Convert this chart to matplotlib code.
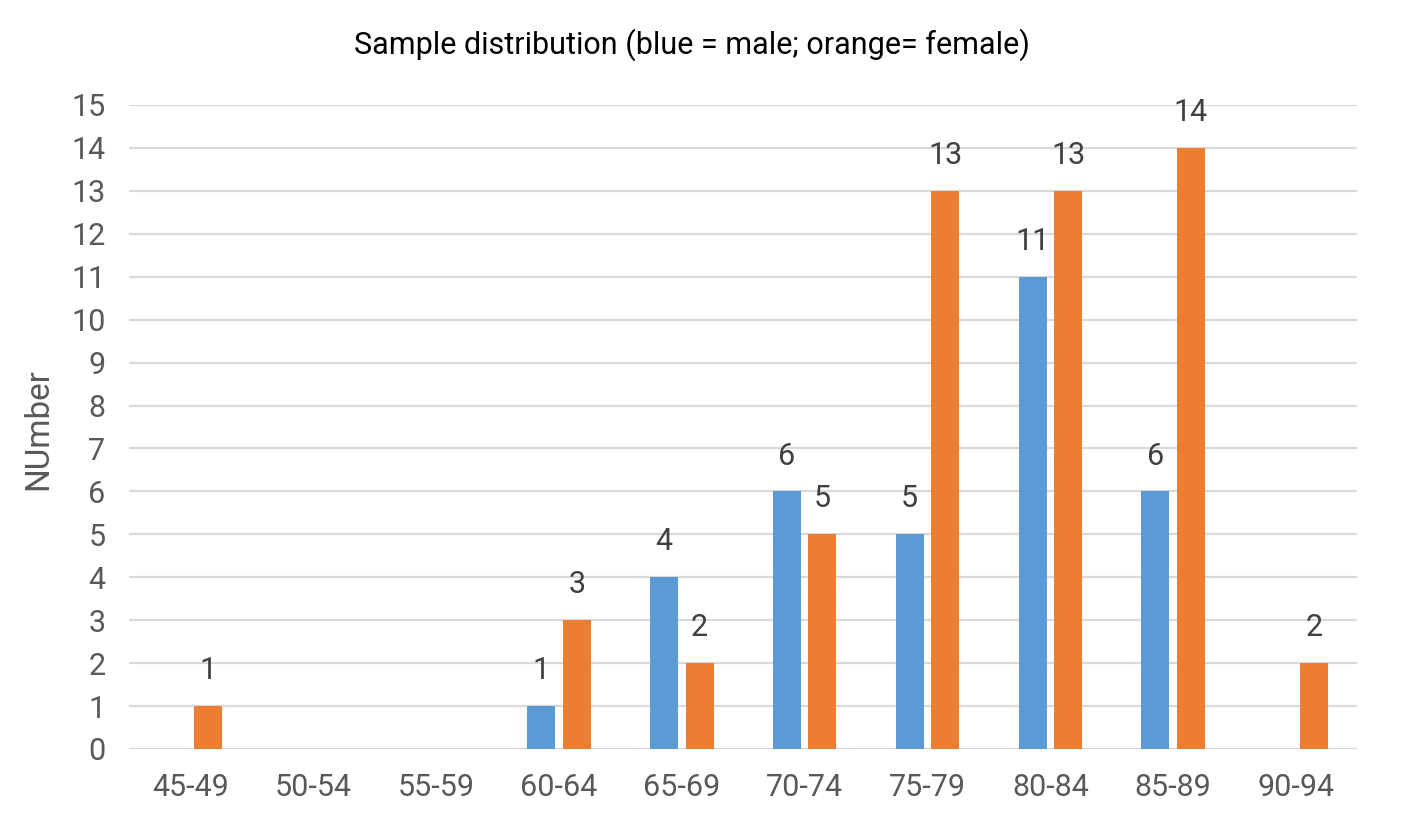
import matplotlib
matplotlib.use("Agg")
import matplotlib.pyplot as plt
import numpy as np

plt.rcParams['font.family'] = ['Roboto', 'DejaVu Sans']

age_groups = ["45-49", "50-54", "55-59", "60-64", "65-69",
              "70-74", "75-79", "80-84", "85-89", "90-94"]
male = [0, 0, 0, 1, 4, 6, 5, 11, 6, 0]
female = [1, 0, 0, 3, 2, 5, 13, 13, 14, 2]

blue = '#5B9BD5'
orange = '#ED7D31'
text_grey = '#595959'
label_grey = '#404040'

fig = plt.figure(figsize=(14.09, 8.30), dpi=100)
ax = fig.add_axes([0.0916, 0.0976, 0.8718, 0.7759])

x = np.arange(len(age_groups))
w = 0.228
off = 0.1446

# blank bars (value 0) are not drawn, like in the original
for i in range(len(x)):
    if male[i] > 0:
        ax.bar(x[i] - off, male[i], w, color=blue, zorder=3)
        ax.annotate(str(male[i]), (x[i] - off, male[i]), xytext=(0, 15),
                    textcoords='offset points', ha='center', va='bottom',
                    fontsize=22, color=label_grey)
    if female[i] > 0:
        ax.bar(x[i] + off, female[i], w, color=orange, zorder=3)
        ax.annotate(str(female[i]), (x[i] + off, female[i]), xytext=(0, 15),
                    textcoords='offset points', ha='center', va='bottom',
                    fontsize=22, color=label_grey)

ax.set_xlim(-0.5, len(x) - 0.5)
ax.set_ylim(0, 15)
ax.set_yticks(range(0, 16))
ax.set_xticks(x)
ax.set_xticklabels(age_groups)
ax.tick_params(axis='both', length=0, labelsize=22, labelcolor=text_grey)
ax.tick_params(axis='y', pad=17)
ax.tick_params(axis='x', pad=17)
ax.grid(axis='y', color='#D9D9D9', linewidth=1.6, zorder=0)
for s in ax.spines.values():
    s.set_visible(False)

fig.text(0.491, 0.946, "Sample distribution (blue = male; orange= female)",
         ha='center', va='center', fontsize=22, color='black')
fig.text(0.027, 0.483, "NUmber", rotation=90, ha='center', va='center',
         fontsize=24, color=text_grey)

fig.savefig('out.png', dpi=100)
